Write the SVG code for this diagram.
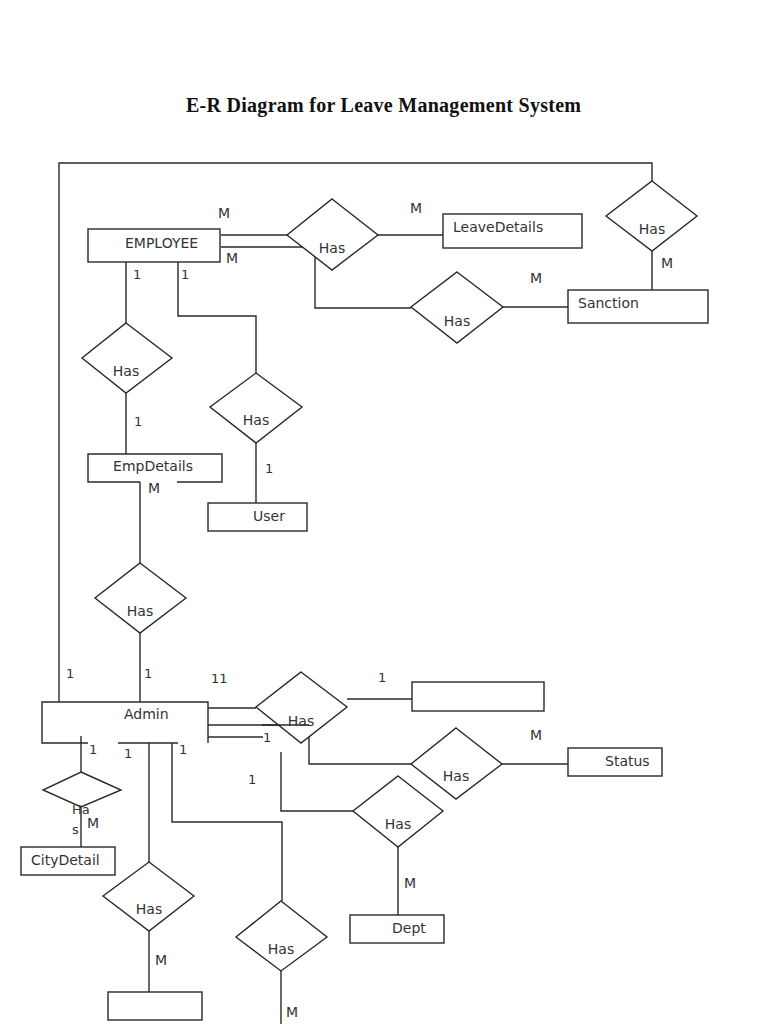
<svg xmlns="http://www.w3.org/2000/svg" width="768" height="1024" viewBox="0 0 768 1024">
<style>
.e{fill:#fff;stroke:#2a2a2a;stroke-width:1.4}
.r{fill:#fff;stroke:#2a2a2a;stroke-width:1.4}
.c{fill:none;stroke:#2a2a2a;stroke-width:1.4}
text{font-family:"DejaVu Sans","Liberation Sans",sans-serif;font-size:14px;fill:#333}
.m{text-anchor:middle}
.t{font-family:"Liberation Serif","Times New Roman",serif;font-weight:bold;font-size:20px;fill:#111}
.n{font-size:13px}
</style>
<rect width="768" height="1024" fill="#fff"/>
<text class="t" x="186" y="112" textLength="395" lengthAdjust="spacing">E-R Diagram for Leave Management System</text>

<g id="connectors">
<path class="c" d="M59,702 V163 H652 V181"/>
<path class="c" d="M221,235 H287"/>
<path class="c" d="M378,235 H443"/>
<path class="c" d="M221,247 H315 V308 H411"/>
<path class="c" d="M503,307 H568"/>
<path class="c" d="M652,251 V290"/>
<path class="c" d="M126,262 V323"/>
<path class="c" d="M126,393 V454"/>
<path class="c" d="M178,262 V316 H256 V373"/>
<path class="c" d="M256,443 V503"/>
<path class="c" d="M140,482 V563"/>
<path class="c" d="M140,633 V702"/>
<path class="c" d="M208,708 H256"/>
<path class="c" d="M347,699 H412"/>
<path class="c" d="M208,725 H309 V764 H411"/>
<path class="c" d="M208,737 H263"/>
<path class="c" d="M502,764 H568"/>
<path class="c" d="M281,752 V811 H353"/>
<path class="c" d="M398,847 V915"/>
<path class="c" d="M81,736 V772"/>
<path class="c" d="M81,807 V847"/>
<path class="c" d="M149,743 V862"/>
<path class="c" d="M149,931 V992"/>
<path class="c" d="M172,743 V822 H282 V901"/>
<path class="c" d="M281,971 V1024"/>
</g>

<g id="employee"><rect class="r" x="88" y="229" width="132" height="33"/><text x="125" y="248">EMPLOYEE</text></g>
<g id="leavedetails"><rect class="r" x="443" y="214" width="139" height="34"/><text x="453" y="232">LeaveDetails</text></g>
<g id="sanction"><rect class="r" x="568" y="290" width="140" height="33"/><text x="578" y="308">Sanction</text></g>
<g id="empdetails"><path class="c" d="M140,482 H88 V454 H222 V482 H177"/><text class="m" x="153" y="471">EmpDetails</text></g>
<g id="user"><rect class="r" x="208" y="503" width="99" height="28"/><text class="m" x="269" y="521">User</text></g>
<g id="admin"><path class="c" d="M88,743 H42 V702 H208 V743 M118,743 H178"/><text x="124" y="719">Admin</text></g>
<g id="blank1"><rect class="r" x="412" y="682" width="132" height="29"/></g>
<g id="status"><rect class="r" x="568" y="748" width="94" height="28"/><text x="605" y="766">Status</text></g>
<g id="dept"><rect class="r" x="350" y="915" width="94" height="28"/><text x="392" y="933">Dept</text></g>
<g id="citydetail"><rect class="r" x="21" y="847" width="94" height="28"/><text x="31" y="865">CityDetail</text></g>
<g id="blank2"><rect class="r" x="108" y="992" width="94" height="28"/></g>

<g id="has1"><polygon class="e" points="332,199 378,235 332,270 287,235"/><text class="m" x="332" y="253">Has</text></g>
<g id="has2"><polygon class="e" points="457,272 503,307 457,343 411,307"/><text class="m" x="457" y="326">Has</text></g>
<g id="has3"><polygon class="e" points="652,181 697,216 652,251 606,216"/><text class="m" x="652" y="234">Has</text></g>
<g id="has4"><polygon class="e" points="126,323 172,358 126,393 82,358"/><text class="m" x="126" y="376">Has</text></g>
<g id="has5"><polygon class="e" points="256,373 302,407 256,443 210,407"/><text class="m" x="256" y="425">Has</text></g>
<g id="has6"><polygon class="e" points="140,563 186,598 140,633 95,598"/><text class="m" x="140" y="616">Has</text></g>
<g id="has7"><polygon class="e" points="301,672 347,707 301,743 256,707"/><path class="c" d="M262,725 H309"/><text class="m" x="301" y="726">Has</text></g>
<g id="has8"><polygon class="e" points="456,728 502,764 456,799 411,764"/><text class="m" x="456" y="781">Has</text></g>
<g id="has9"><polygon class="e" points="398,776 443,811 398,847 353,811"/><text class="m" x="398" y="829">Has</text></g>
<g id="has10"><polygon class="e" points="81,772 121,790 81,807 43,790"/><text x="72" y="814" style="font-size:13px">Ha</text><text x="72" y="834" style="font-size:13px">s</text></g>
<g id="has11"><polygon class="e" points="149,862 194,896 149,931 103,896"/><text class="m" x="149" y="914">Has</text></g>
<g id="has12"><polygon class="e" points="281,901 327,937 281,971 236,937"/><text class="m" x="281" y="954">Has</text></g>

<g id="labels">
<text x="218" y="218">M</text>
<text x="226" y="263">M</text>
<text x="410" y="213">M</text>
<text x="530" y="283">M</text>
<text x="661" y="268">M</text>
<text class="n" x="133" y="279">1</text>
<text class="n" x="181" y="279">1</text>
<text class="n" x="134" y="426">1</text>
<text class="n" x="265" y="473">1</text>
<text x="148" y="493">M</text>
<text class="n" x="66" y="678">1</text>
<text class="n" x="144" y="678">1</text>
<text class="n" x="211" y="683">11</text>
<text class="n" x="378" y="682">1</text>
<text x="530" y="740">M</text>
<text class="n" x="263" y="742">1</text>
<text class="n" x="248" y="784">1</text>
<text class="n" x="89" y="754">1</text>
<text class="n" x="124" y="758">1</text>
<text class="n" x="179" y="754">1</text>
<text x="87" y="828">M</text>
<text x="404" y="888">M</text>
<text x="155" y="965">M</text>
<text x="286" y="1017">M</text>
</g>
</svg>
